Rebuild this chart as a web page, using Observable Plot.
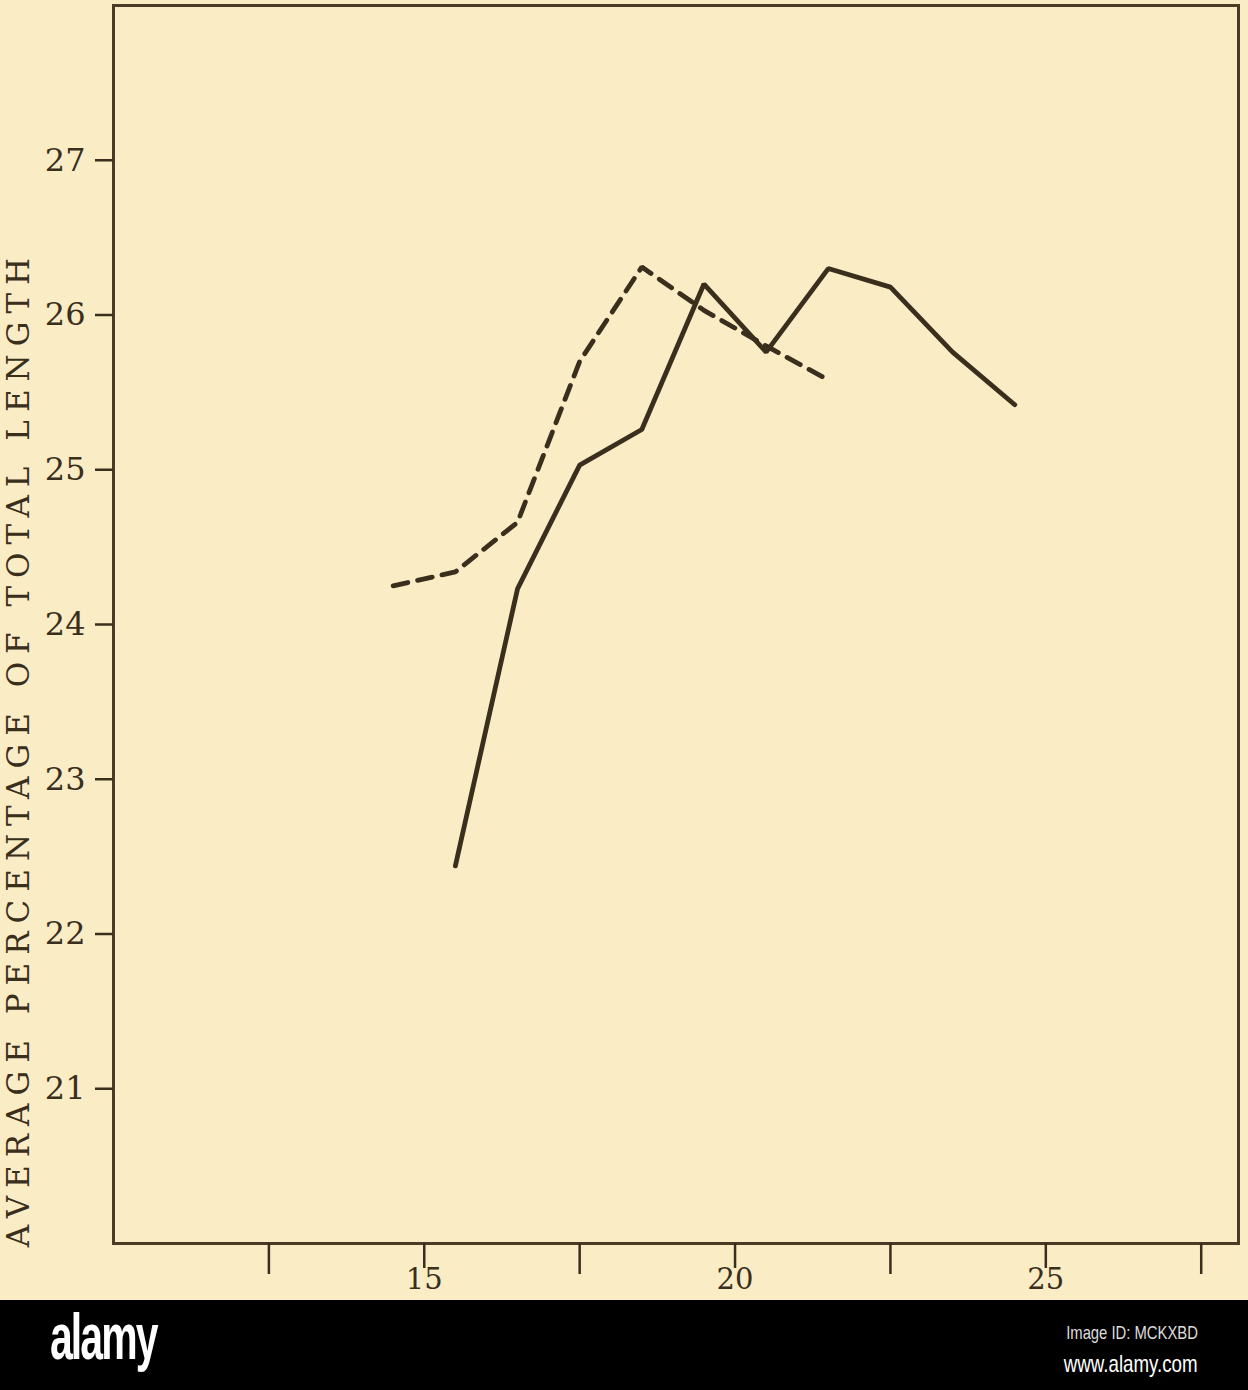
<!DOCTYPE html>
<html>
<head>
<meta charset="utf-8">
<script src="https://cdn.jsdelivr.net/npm/d3@7"></script>
<script src="https://cdn.jsdelivr.net/npm/@observablehq/plot@0.6"></script>
<style>
  html, body { margin: 0; padding: 0; background: #faedc6; }
  #wrap { width: 1248px; height: 1390px; position: relative; overflow: hidden; }
  #banner { position: absolute; left: 0; top: 1300px; width: 1248px; height: 90px; background: #000; color: #fff; font-family: "Liberation Sans", Arial, sans-serif; }
  #logo { position: absolute; left: 50px; top: 0px; font-size: 64px; font-weight: bold; letter-spacing: -3px; transform: scaleX(0.64); transform-origin: left top; }
  #imgid { position: absolute; right: 50px; top: 22px; font-size: 19px; transform: scaleX(0.78); transform-origin: right top; color: #ddd; }
  #site { position: absolute; right: 50px; top: 50px; font-size: 24px; transform: scaleX(0.78); transform-origin: right top; }
</style>
</head>
<body>
<div id="wrap">
  <div id="chart"></div>
  <div id="banner">
    <div id="logo">alamy</div>
    <div id="imgid">Image ID: MCKXBD</div>
    <div id="site">www.alamy.com</div>
  </div>
</div>
<script>
// Solid curve
const solidX = [15.5, 16.5, 17.5, 18.5, 19.5, 20.5, 21.5, 22.5, 23.5, 24.5];
const solidY = [22.44, 24.23, 25.03, 25.26, 26.20, 25.76, 26.30, 26.18, 25.76, 25.42];
// Dashed curve
const dashX = [14.5, 15.5, 16.5, 17.5, 18.5, 19.5, 20.5, 21.5];
const dashY = [24.25, 24.34, 24.66, 25.70, 26.31, 26.03, 25.80, 25.58];
// Ticks
const xMinorTicks = [12.5, 17.5, 22.5, 27.5];
const xMajorTicks = [15, 20, 25];
const yTicks = [21, 22, 23, 24, 25, 26, 27];
const yTitle = "AVERAGE PERCENTAGE OF TOTAL LENGTH";

const solid = solidX.map((x, i) => ({x, y: solidY[i]}));
const dashed = dashX.map((x, i) => ({x, y: dashY[i]}));

const ink = "#3a2e1d";

const plot = Plot.plot({
  width: 1248,
  height: 1300,
  marginLeft: 113,
  marginRight: 10,
  marginTop: 5,
  marginBottom: 57,
  style: {background: "#faedc6", color: ink, fontFamily: "DejaVu Serif", fontSize: "32px"},
  x: {domain: [10, 28.1]},
  y: {domain: [20, 28]},
  marks: [
    Plot.frame({stroke: "#4a3a26", strokeWidth: 3}),
    Plot.axisX({ticks: xMinorTicks, tickSize: 31, tickFormat: () => "", strokeWidth: 2.5, label: null}),
    Plot.axisX({ticks: xMajorTicks, tickSize: 25, tickPadding: 0, strokeWidth: 2.5, label: null, fontSize: 29}),
    Plot.axisY({ticks: yTicks, tickSize: 18, tickPadding: 10, strokeWidth: 2.5, label: null, fontSize: 32}),
    Plot.text([yTitle], {frameAnchor: "left", textAnchor: "middle", rotate: -90, dx: -94, dy: 124, fontSize: 31, fill: ink}),
    Plot.line(dashed, {x: "x", y: "y", stroke: ink, strokeWidth: 4.8, strokeDasharray: "15,10", strokeLinejoin: "miter"}),
    Plot.line(solid, {x: "x", y: "y", stroke: ink, strokeWidth: 4.8, strokeLinejoin: "miter"})
  ]
});

d3.select(plot).selectAll("text").filter(function() { return this.textContent === yTitle; })
  .style("letter-spacing", "8px");

document.getElementById("chart").appendChild(plot);
</script>
</body>
</html>
